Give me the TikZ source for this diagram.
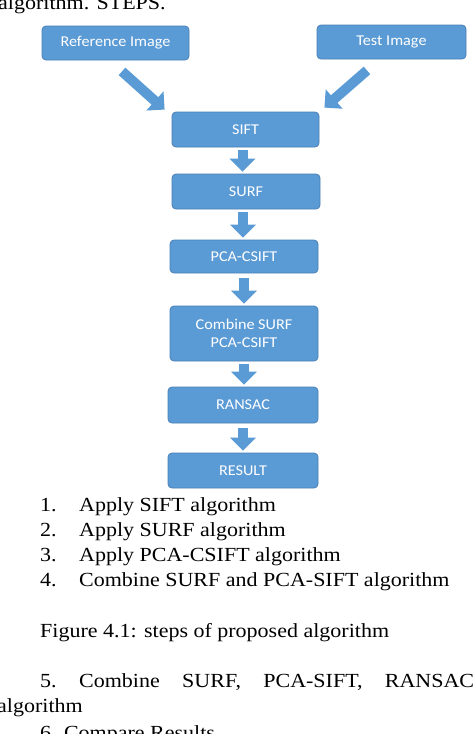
\documentclass[tikz,border=0pt]{standalone}
\usepackage{fontspec}
\setmainfont{Liberation Serif}
\newfontfamily\bodyfont{Liberation Serif}[FakeStretch=1.1]
\newfontfamily\boxfont{Carlito}[FakeStretch=1.08]
\usetikzlibrary{arrows.meta,calc}
\definecolor{boxblue}{HTML}{5B9BD5}
\definecolor{boxedge}{HTML}{4A7FB5}
\tikzset{
  stepbox/.style={draw=boxedge, line width=0.8pt, fill=boxblue, rounded corners=4pt,
    text=white, font=\boxfont\fontsize{15}{17}\selectfont, align=center,
    inner sep=0pt, anchor=center},
  blockarrow/.style={draw=boxblue, line width=10pt,
    -{Triangle[width=25pt,length=13pt]}, shorten >=0pt},
  bodytext/.style={anchor=base west, inner sep=0pt, font=\bodyfont\fontsize{20}{25}\selectfont}
}
\begin{document}
\begin{tikzpicture}[x=1pt,y=-1pt]
\clip (0,0) rectangle (474,734);
\fill[white] (0,0) rectangle (474,734);
% boxes
\node[stepbox, minimum width=147pt, minimum height=34pt] (ref) at (115.5,43) {Reference Image};
\node[stepbox, minimum width=149pt, minimum height=34pt] (test) at (391.5,42) {Test Image};
\node[stepbox, minimum width=147pt, minimum height=35pt] (sift) at (245.5,129.5) {SIFT};
\node[stepbox, minimum width=148pt, minimum height=35pt] (surf) at (246,191.5) {SURF};
\node[stepbox, minimum width=148pt, minimum height=33pt] (pca) at (244,256.5) {PCA-CSIFT};
\node[stepbox, minimum width=148pt, minimum height=55pt] (comb) at (244,333.5) {Combine SURF\\[1pt]PCA-CSIFT};
\node[stepbox, minimum width=150pt, minimum height=36pt] (ransac) at (243,405) {RANSAC};
\node[stepbox, minimum width=150pt, minimum height=35pt] (result) at (243,470.5) {RESULT};
% diagonal arrows
\draw[blockarrow] ([shift={(6.5pt,-11pt)}]ref.south) -- ([shift={(-7pt,2pt)}]sift.north west);
\draw[blockarrow] ([shift={(-24.5pt,-11pt)}]test.south) -- ([shift={(5pt,4pt)}]sift.north east);
% down arrows
\draw[blockarrow] ([shift={(-3pt,-3pt)}]sift.south) -- ([shift={(-3pt,2pt)}]sift.south |- surf.north);
\draw[blockarrow] ([shift={(-3pt,-3pt)}]surf.south) -- ([shift={(-3pt,2pt)}]surf.south |- pca.north);
\draw[blockarrow] ([yshift=-5pt]pca.south) -- ([yshift=2pt]pca.south |- comb.north);
\draw[blockarrow] ([yshift=-3pt]comb.south) -- ([yshift=2pt]comb.south |- ransac.north);
\draw[blockarrow] ([yshift=-5pt]ransac.south) -- ([yshift=2pt]ransac.south |- result.north);
% text
\node[bodytext] (top) at (-2,9) {algorithm. STEPS.};
\node[bodytext] (l1n) at (40,511) {1.};
\node[bodytext] (l1) at (79,511) {Apply SIFT algorithm};
\node[bodytext] (l2n) at (40,536) {2.};
\node[bodytext] (l2) at (79,536) {Apply SURF algorithm};
\node[bodytext] (l3n) at (40,561) {3.};
\node[bodytext] (l3) at (79,561) {Apply PCA-CSIFT algorithm};
\node[bodytext] (l4n) at (40,586) {4.};
\node[bodytext] (l4) at (79,586) {Combine SURF and PCA-SIFT algorithm};
\node[bodytext] (cap) at (40,637) {Figure 4.1: steps of proposed algorithm};
\node[bodytext] (l5n) at (40,687) {5.};
\node[bodytext] (l5) at (79,687) {\makebox[395pt][s]{Combine SURF, PCA-SIFT, RANSAC}};
\node[bodytext] (l5b) at (-3,712) {algorithm};
\node[bodytext] (l6) at (40,739) {6. Compare Results};
\end{tikzpicture}
\end{document}
